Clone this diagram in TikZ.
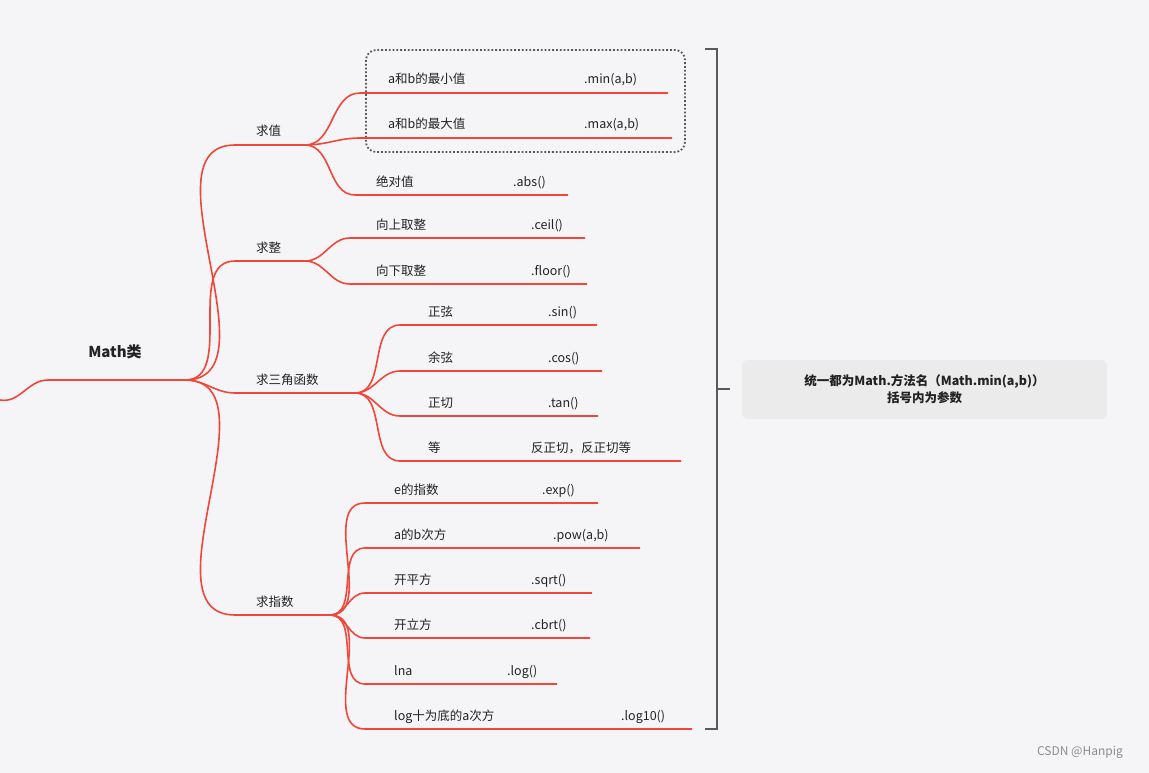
\documentclass[tikz,border=0pt]{standalone}
\usepackage{fontspec}
\newfontfamily\cjk{Noto Sans CJK SC}
\definecolor{bg}{HTML}{F5F5F7}
\definecolor{rl}{HTML}{F0473A}
\definecolor{tx}{HTML}{222222}
\tikzset{br/.style={draw=rl,line width=1.6pt},
 lt/.style={anchor=base west,inner sep=0pt,font=\cjk\fontsize{12.5}{14}\selectfont,text=tx}}
\newcommand\leaf[9]{%
 \coordinate (#1s) at (#2,#3); \coordinate (#1e) at (#4,#3);
 \draw[br] (#9) to[out=0,in=180] (#1s) -- (#1e);
 \node[lt] (#1a) at (#6,#3-9) {#5};
 \node[lt] (#1b) at (#8,#3-9) {#7};}
\begin{document}
\begin{tikzpicture}[x=1pt,y=-1pt]
\fill[bg] (0,0) rectangle (1149,773);
\useasboundingbox (0,0) rectangle (1149,773);
% root
\coordinate (r0) at (0,400); \coordinate (r1) at (48,380); \coordinate (r2) at (185,380);
\draw[br] (r0) to[out=-10,in=180] (r1) -- (r2);
\node[font=\cjk\bfseries\fontsize{15}{18}\selectfont,text=tx] (root) at (115,352) {Math类};
% branches
\foreach \n/\y/\e/\t in {b1/145/305/求值,b2/261/305/求整,b3/393/355/求三角函数,b4/615/330/求指数}{
 \coordinate (\n s) at (235,\y); \coordinate (\n e) at (\e,\y);
 \draw[br] (r2) to[out=0,in=180] (\n s) -- (\n e);
 \node[lt] (\n t) at (256,\y-9) {\t};}
% dashed box
\draw[dotted,line width=1.8pt,draw=black!65,rounded corners=10pt] (366,50) rectangle (685,152);
\leaf{l1}{360}{93}{668}{a和b的最小值}{388}{.min(a,b)}{584}{b1e}
\leaf{l2}{360}{138}{672}{a和b的最大值}{388}{.max(a,b)}{584}{b1e}
\leaf{l3}{355}{195}{568}{绝对值}{376}{.abs()}{513}{b1e}
\leaf{l4}{350}{238}{585}{向上取整}{376}{.ceil()}{531}{b2e}
\leaf{l5}{350}{284}{587}{向下取整}{376}{.floor()}{531}{b2e}
\leaf{l6}{400}{325}{597}{正弦}{428}{.sin()}{548}{b3e}
\leaf{l7}{400}{371}{602}{余弦}{428}{.cos()}{548}{b3e}
\leaf{l8}{400}{416}{598}{正切}{428}{.tan()}{548}{b3e}
\leaf{l9}{400}{461}{681}{等}{428}{反正切，反正切等}{531}{b3e}
\leaf{m1}{365}{503}{598}{e的指数}{394}{.exp()}{542}{b4e}
\leaf{m2}{365}{548}{640}{a的b次方}{394}{.pow(a,b)}{553}{b4e}
\leaf{m3}{365}{593}{592}{开平方}{394}{.sqrt()}{531}{b4e}
\leaf{m4}{365}{638}{590}{开立方}{394}{.cbrt()}{531}{b4e}
\leaf{m5}{365}{684}{557}{lna}{394}{.log()}{507}{b4e}
\leaf{m6}{365}{729}{692}{log十为底的a次方}{394}{.log10()}{621}{b4e}
% bracket
\coordinate (k1) at (705,49); \coordinate (k2) at (717,49); \coordinate (k3) at (717,729);
\coordinate (k4) at (705,729); \coordinate (k5) at (717,389); \coordinate (k6) at (730,389);
\draw[draw=black!65,line width=1.6pt] (k1) -- (k2) -- (k3) -- (k4);
\draw[draw=black!65,line width=1.6pt] (k5) -- (k6);
\node[fill=black!8,rounded corners=6pt,minimum width=365pt,minimum height=59pt,align=center,
 font=\cjk\bfseries\fontsize{12.5}{17}\selectfont,text=tx] (note) at (924.5,389.5)
 {统一都为Math.方法名（Math.min(a,b)）\\括号内为参数};
\node[font=\cjk\fontsize{12}{14}\selectfont,text=black!45] (wm) at (1080,752) {CSDN @Hanpig};
\end{tikzpicture}
\end{document}
